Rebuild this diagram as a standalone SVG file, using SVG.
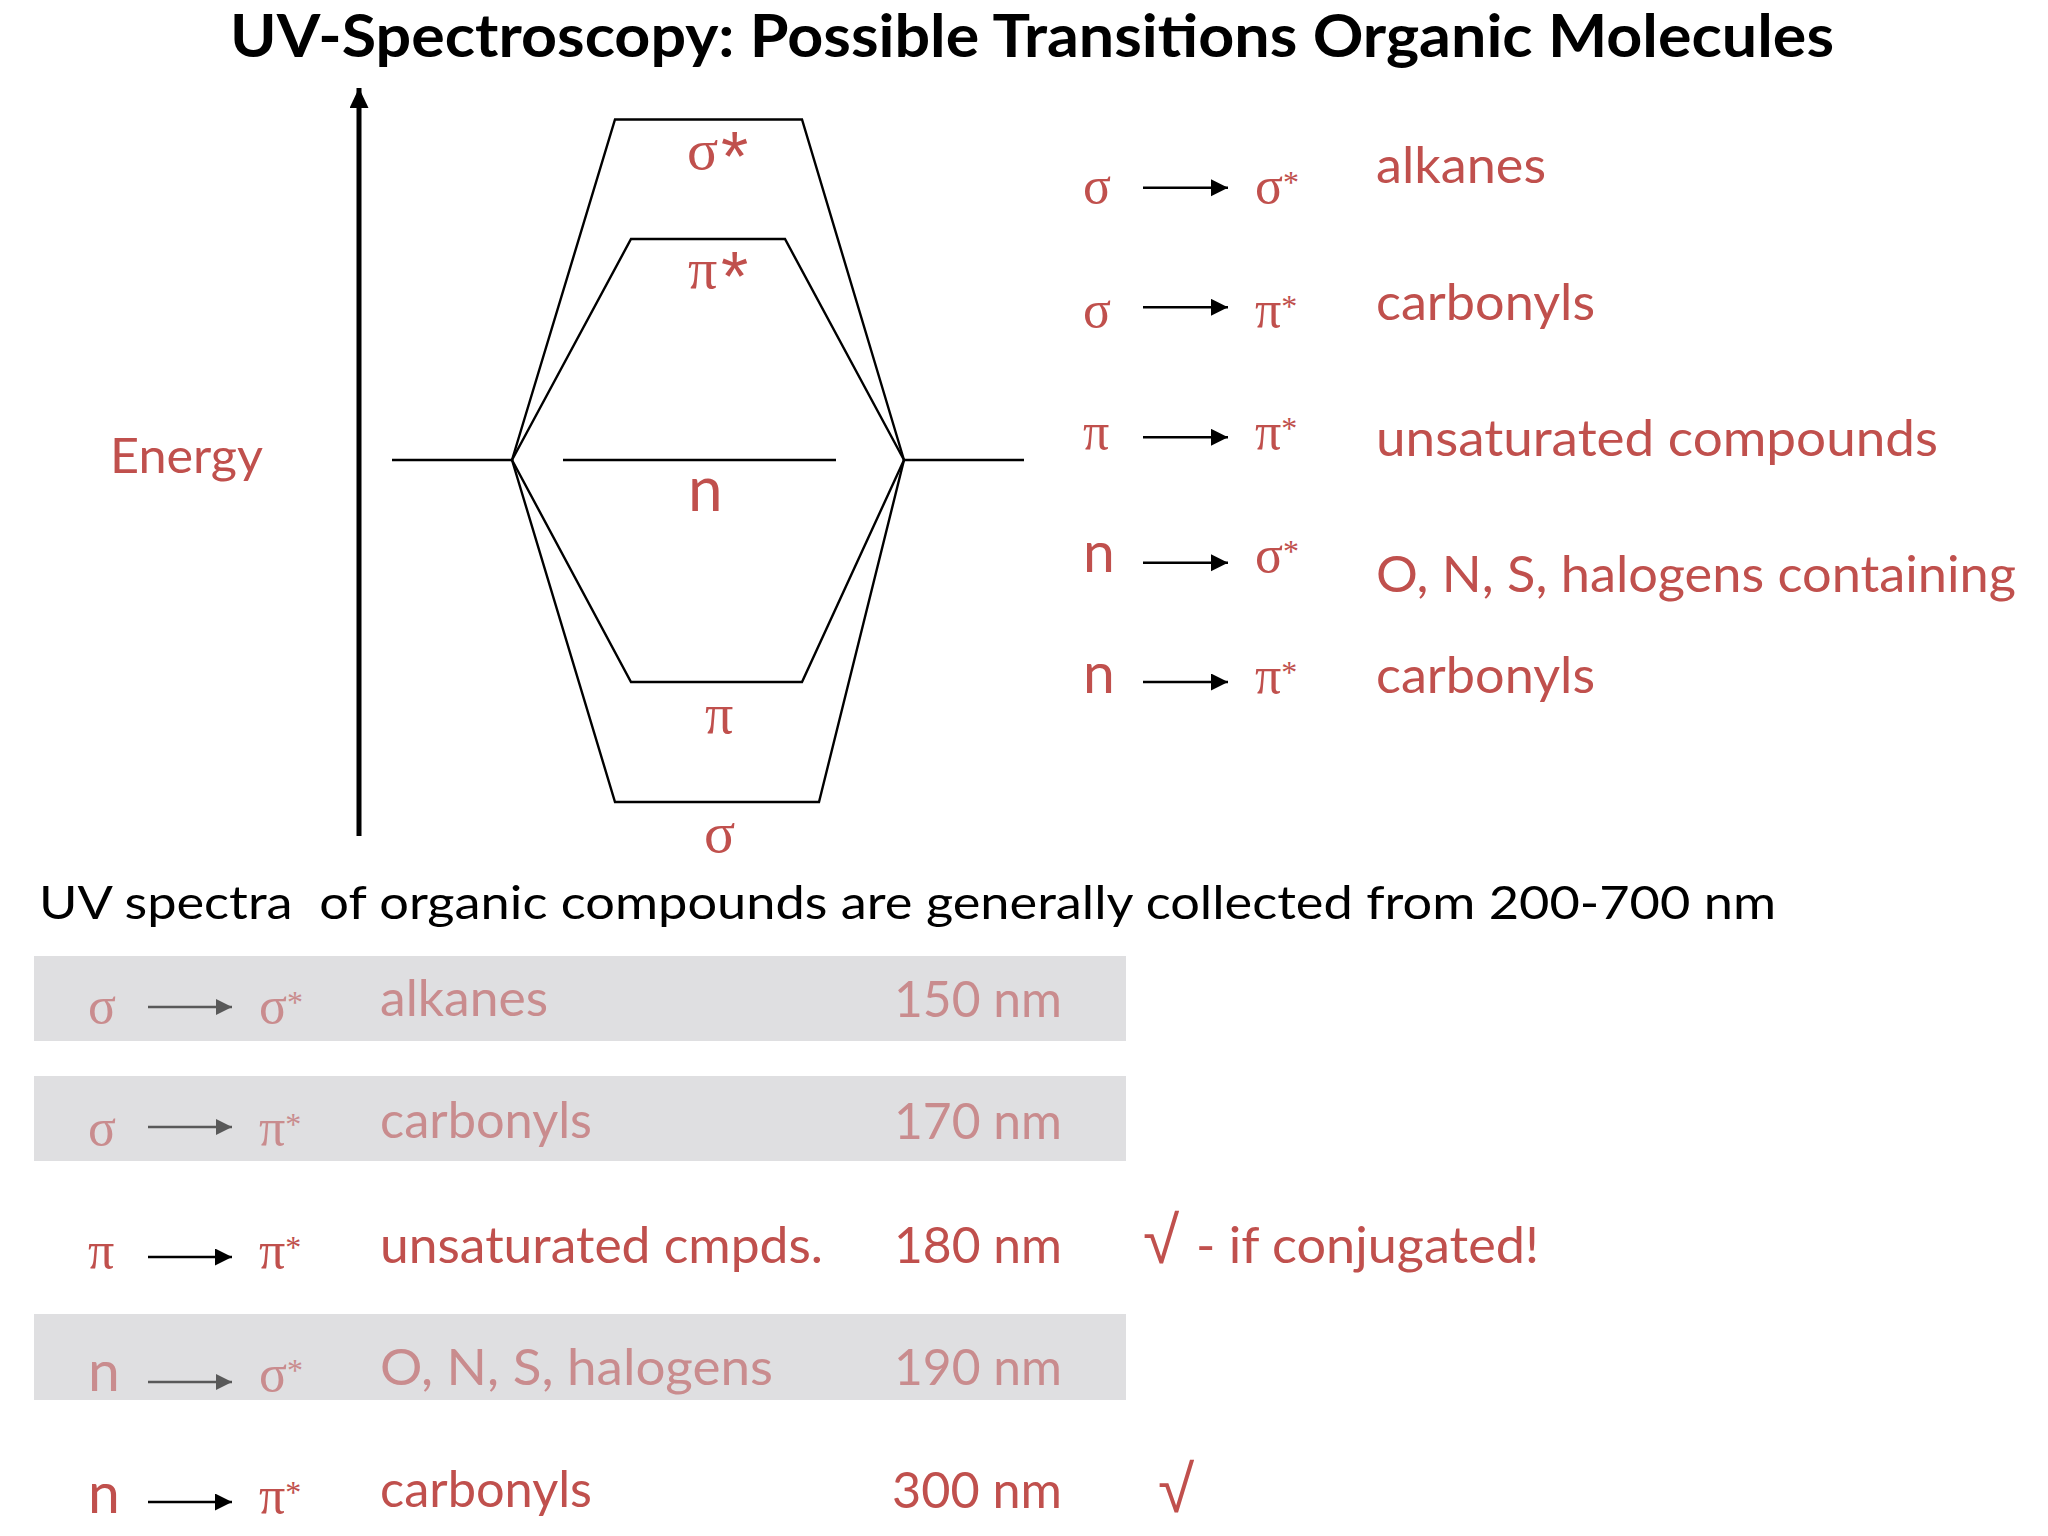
<svg xmlns="http://www.w3.org/2000/svg" width="2048" height="1536" viewBox="0 0 2048 1536">
<defs>
<style>
.sans{font-family:Lato,"Open Sans","Liberation Sans",sans-serif;}
.serif{font-family:"Liberation Serif","DejaVu Serif",serif;}
.red{fill:#C0504D;}
.faded{fill:#C98C8E;}
.blk{fill:#000000;}
.lvl{fill:none;stroke:#000;stroke-width:2.4;stroke-linejoin:miter;}
.arr{stroke:#000;stroke-width:2.6;}
.garr{stroke:#595959;stroke-width:2.6;}
.band{fill:#DFDFE1;}
.desc{font-size:51px;}
.sym{font-size:52px;}
.ast{font-size:32px;}
.bigast{font-family:"Liberation Sans",Arial,sans-serif;font-size:70px;}
.rad{font-family:"Liberation Sans","DejaVu Sans",sans-serif;font-size:66px;}
</style>
<marker id="ah" markerUnits="userSpaceOnUse" markerWidth="18" markerHeight="18" refX="17" refY="8.5" orient="auto">
<path d="M0,0 L17,8.5 L0,17 z" fill="#000"/>
</marker>
<marker id="gah" markerUnits="userSpaceOnUse" markerWidth="18" markerHeight="18" refX="16" refY="8" orient="auto">
<path d="M0,0 L16,8 L0,16 z" fill="#595959"/>
</marker>
<marker id="eah" markerUnits="userSpaceOnUse" markerWidth="22" markerHeight="22" refX="20" refY="9.5" orient="auto">
<path d="M0,0 L20,9.5 L0,19 z" fill="#000"/>
</marker>
</defs>
<rect x="0" y="0" width="2048" height="1536" fill="#FFFFFF"/>

<g id="title">
<text class="sans blk" x="230" y="57" font-size="59" font-weight="bold" textLength="1604" lengthAdjust="spacingAndGlyphs">UV-Spectroscopy: Possible Transitions Organic Molecules</text>
</g>

<g id="energy-axis">
<line x1="359" y1="836" x2="359" y2="88" stroke="#000" stroke-width="5" marker-end="url(#eah)"/>
<text class="sans red" x="110" y="473" font-size="49" textLength="153" lengthAdjust="spacingAndGlyphs">Energy</text>
</g>

<g id="mo-diagram">
<line class="lvl" x1="392" y1="460" x2="512" y2="460"/>
<line class="lvl" x1="563" y1="460" x2="836" y2="460"/>
<line class="lvl" x1="904" y1="460" x2="1024" y2="460"/>
<polyline class="lvl" points="512,460 615,119.5 802,119.5 904,460"/>
<polyline class="lvl" points="512,460 631,239 785,239 904,460"/>
<polyline class="lvl" points="512,460 631,682 802,682 904,460"/>
<polyline class="lvl" points="512,460 615,802 819,802 904,460"/>
</g>

<g id="mo-labels">
<g id="label-sigma-star">
<text class="serif red" x="687" y="169" font-size="58">σ</text>
<text class="red bigast" x="721" y="181">*</text>
</g>
<g id="label-pi-star">
<text class="serif red" x="688" y="288" font-size="58">π</text>
<text class="red bigast" x="721" y="301">*</text>
</g>
<g id="label-n">
<text class="sans red" x="688" y="511" font-size="62">n</text>
</g>
<g id="label-pi">
<text class="serif red" x="705" y="733" font-size="56">π</text>
</g>
<g id="label-sigma">
<text class="serif red" x="704" y="852" font-size="58">σ</text>
</g>
</g>

<g id="transition-list">
<g id="t1">
<text class="serif red sym" x="1083" y="203">σ</text>
<text class="serif red sym" x="1255" y="203">σ<tspan class="ast" dy="-10">*</tspan></text>
<text class="sans red desc" x="1376" y="183" textLength="170" lengthAdjust="spacingAndGlyphs">alkanes</text>
</g>
<g id="t2">
<text class="serif red sym" x="1083" y="327">σ</text>
<text class="serif red sym" x="1255" y="327">π<tspan class="ast" dy="-10">*</tspan></text>
<text class="sans red desc" x="1376" y="320" textLength="219" lengthAdjust="spacingAndGlyphs">carbonyls</text>
</g>
<g id="t3">
<text class="serif red sym" x="1083" y="449">π</text>
<text class="serif red sym" x="1255" y="449">π<tspan class="ast" dy="-10">*</tspan></text>
<text class="sans red desc" x="1376" y="456" textLength="562" lengthAdjust="spacingAndGlyphs">unsaturated compounds</text>
</g>
<g id="t4">
<text class="sans red" x="1083" y="572" font-size="57">n</text>
<text class="serif red sym" x="1255" y="572">σ<tspan class="ast" dy="-10">*</tspan></text>
<text class="sans red desc" x="1376" y="592" textLength="640" lengthAdjust="spacingAndGlyphs">O, N, S, halogens containing</text>
</g>
<g id="t5">
<text class="sans red" x="1083" y="693" font-size="57">n</text>
<text class="serif red sym" x="1255" y="693">π<tspan class="ast" dy="-10">*</tspan></text>
<text class="sans red desc" x="1376" y="693" textLength="219" lengthAdjust="spacingAndGlyphs">carbonyls</text>
</g>
</g>

<g id="subtitle">
<text class="sans blk" x="39" y="919" font-size="47" xml:space="preserve" textLength="1737" lengthAdjust="spacingAndGlyphs">UV spectra  of organic compounds are generally collected from 200-700 nm</text>
</g>

<g id="table">
<rect class="band" x="34" y="956" width="1092" height="85"/>
<rect class="band" x="34" y="1076" width="1092" height="85"/>
<rect class="band" x="34" y="1314" width="1092" height="86"/>
<g id="r1">
<text class="serif faded sym" x="88" y="1023">σ</text>
<text class="serif faded sym" x="259" y="1023">σ<tspan class="ast" dy="-10">*</tspan></text>
<text class="sans faded desc" x="380" y="1016" textLength="168" lengthAdjust="spacingAndGlyphs">alkanes</text>
<text class="sans faded desc" x="894" y="1017" textLength="168" lengthAdjust="spacingAndGlyphs">150 nm</text>
</g>
<g id="r2">
<text class="serif faded sym" x="88" y="1145">σ</text>
<text class="serif faded sym" x="259" y="1145">π<tspan class="ast" dy="-10">*</tspan></text>
<text class="sans faded desc" x="380" y="1138" textLength="212" lengthAdjust="spacingAndGlyphs">carbonyls</text>
<text class="sans faded desc" x="894" y="1139" textLength="168" lengthAdjust="spacingAndGlyphs">170 nm</text>
</g>
<g id="r3">
<text class="serif red sym" x="88" y="1268">π</text>
<text class="serif red sym" x="259" y="1268">π<tspan class="ast" dy="-10">*</tspan></text>
<text class="sans red desc" x="380" y="1263" textLength="443" lengthAdjust="spacingAndGlyphs">unsaturated cmpds.</text>
<text class="sans red desc" x="894" y="1263" textLength="168" lengthAdjust="spacingAndGlyphs">180 nm</text>
<text class="red rad" x="1143" y="1263">√</text>
<text class="sans red desc" x="1196" y="1263" textLength="343" lengthAdjust="spacingAndGlyphs">- if conjugated!</text>
</g>
<g id="r4">
<text class="sans faded" x="88" y="1391" font-size="57">n</text>
<text class="serif faded sym" x="259" y="1391">σ<tspan class="ast" dy="-10">*</tspan></text>
<text class="sans faded desc" x="380" y="1385" textLength="393" lengthAdjust="spacingAndGlyphs">O, N, S, halogens</text>
<text class="sans faded desc" x="894" y="1385" textLength="168" lengthAdjust="spacingAndGlyphs">190 nm</text>
</g>
<g id="r5">
<text class="sans red" x="88" y="1513" font-size="57">n</text>
<text class="serif red sym" x="259" y="1513">π<tspan class="ast" dy="-10">*</tspan></text>
<text class="sans red desc" x="380" y="1507" textLength="212" lengthAdjust="spacingAndGlyphs">carbonyls</text>
<text class="sans red desc" x="892" y="1508" textLength="170" lengthAdjust="spacingAndGlyphs">300 nm</text>
<text class="red rad" x="1158" y="1512">√</text>
</g>
</g>

<g id="connectors">
<line class="arr" x1="1143" y1="187.7" x2="1228" y2="187.7" marker-end="url(#ah)"/>
<line class="arr" x1="1143" y1="307.3" x2="1228" y2="307.3" marker-end="url(#ah)"/>
<line class="arr" x1="1143" y1="437.3" x2="1228" y2="437.3" marker-end="url(#ah)"/>
<line class="arr" x1="1143" y1="562.7" x2="1228" y2="562.7" marker-end="url(#ah)"/>
<line class="arr" x1="1143" y1="682" x2="1228" y2="682" marker-end="url(#ah)"/>
<line class="garr" x1="148" y1="1007" x2="232" y2="1007" marker-end="url(#gah)"/>
<line class="garr" x1="148" y1="1127" x2="232" y2="1127" marker-end="url(#gah)"/>
<line class="arr" x1="148" y1="1257" x2="232" y2="1257" marker-end="url(#ah)"/>
<line class="garr" x1="148" y1="1382" x2="232" y2="1382" marker-end="url(#gah)"/>
<line class="arr" x1="148" y1="1502" x2="232" y2="1502" marker-end="url(#ah)"/>
</g>
</svg>
